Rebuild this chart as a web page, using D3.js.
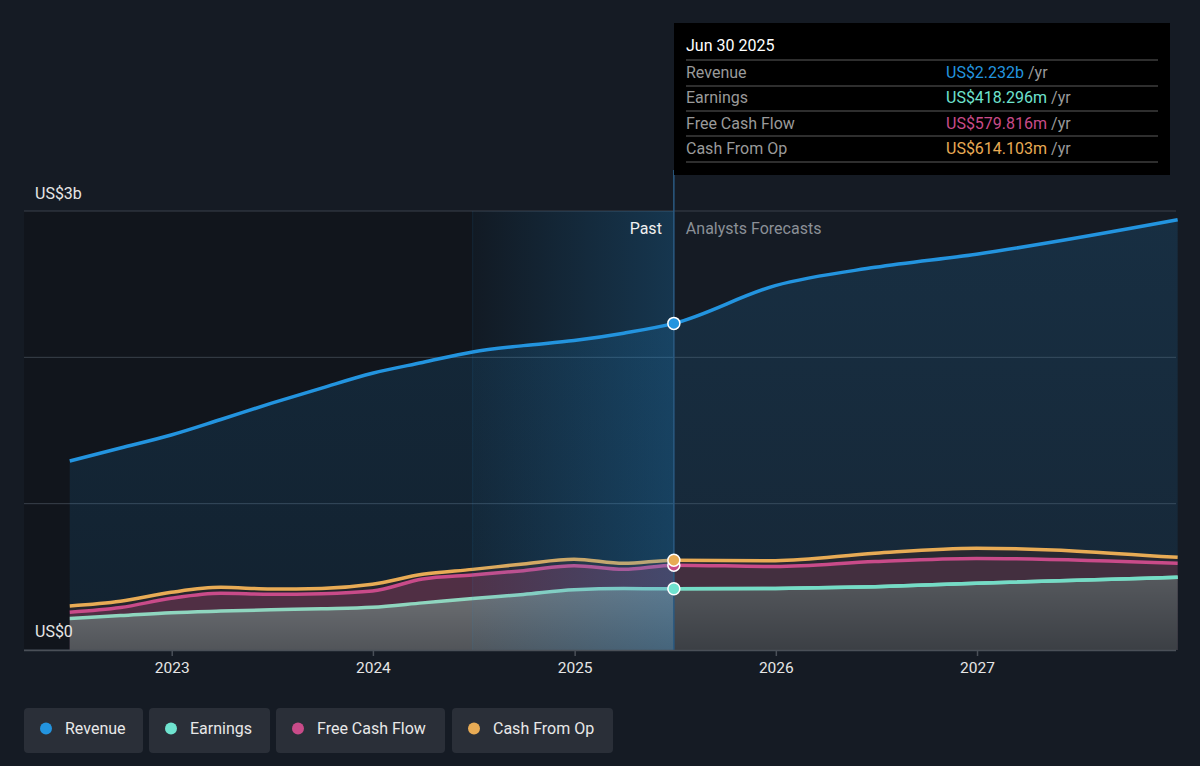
<!DOCTYPE html>
<html><head><meta charset="utf-8">
<script src="https://cdn.jsdelivr.net/npm/d3@7/dist/d3.min.js"></script>
<style>
html,body{margin:0;padding:0;background:#151b24;}
svg{display:block;font-family:Roboto,"Noto Sans",sans-serif;}
</style></head>
<body><svg id="c" width="1200" height="766"></svg>
<script>
// ---------- data (values in US$ billions) ----------
const pastDates = ["2022-06-30","2022-09-30","2022-12-31","2023-03-31","2023-06-30","2023-09-30","2023-12-31","2024-03-31","2024-06-30","2024-09-30","2024-12-31","2025-03-31","2025-06-30"];
const pastRevenue = [1.292,1.380,1.469,1.575,1.685,1.790,1.891,1.965,2.037,2.080,2.115,2.165,2.232];
const pastEarnings = [0.216,0.235,0.255,0.266,0.275,0.282,0.292,0.322,0.352,0.380,0.412,0.420,0.418];
const pastFCF = [0.258,0.290,0.353,0.387,0.381,0.385,0.403,0.485,0.513,0.542,0.576,0.551,0.580];
const pastCFO = [0.301,0.333,0.394,0.428,0.417,0.421,0.449,0.517,0.551,0.588,0.620,0.592,0.614];

const fcDates = ["2025-06-30","2025-12-31","2026-06-30","2026-12-31","2027-12-31"];
const fcRevenue = [2.232,2.490,2.615,2.705,2.940];
const fcEarnings = [0.418,0.421,0.433,0.456,0.497];
const fcFCF = [0.580,0.570,0.604,0.626,0.592];
const fcCFO = [0.614,0.610,0.661,0.695,0.633];

const yTicks = [0,1,2,3];
const yLabels = ["US$0","US$3b"];
const xTickYears = [2023,2024,2025,2026,2027];
const seriesNames = ["Revenue","Earnings","Free Cash Flow","Cash From Op"];
const seriesColors = ["#2394df","#6fe3cf","#c94b89","#e8ab55"];
const tipDate = "Jun 30 2025";
const tipValues = ["US$2.232b","US$418.296m","US$579.816m","US$614.103m"];

// ---------- setup ----------
const svg = d3.select("#c");
const W=1200,H=766;
const L=24,R=1176,T=211,B=650;
const FS=16;
const parse = d3.timeParse("%Y-%m-%d");
const x = d3.scaleTime().domain([parse("2022-04-08"),parse("2027-12-28")]).range([L,R]);
const y = d3.scaleLinear().domain([0,3]).range([B,T]);
const nowDate = parse("2025-06-30");
const xNow = x(nowDate);
const xBand = x(parse("2024-06-30"));

const mk = (dates,vals)=>dates.map((d,i)=>({d:parse(d),v:vals[i]}));
const allDates = pastDates.concat(fcDates.slice(1));
const series = [
  mk(allDates, pastRevenue.concat(fcRevenue.slice(1))),
  mk(allDates, pastEarnings.concat(fcEarnings.slice(1))),
  mk(allDates, pastFCF.concat(fcFCF.slice(1))),
  mk(allDates, pastCFO.concat(fcCFO.slice(1)))
];

const defs = svg.append("defs");
svg.append("rect").attr("width",W).attr("height",H).attr("fill","#151b24");

// past darker region
svg.append("rect").attr("x",L).attr("y",T).attr("width",xNow-L).attr("height",B-T).attr("fill","#0e1116").attr("opacity",0.55);

// clip paths
defs.append("clipPath").attr("id","cpPast").append("rect").attr("x",0).attr("y",0).attr("width",xNow).attr("height",H);
defs.append("clipPath").attr("id","cpFc").append("rect").attr("x",xNow).attr("y",0).attr("width",W-xNow).attr("height",H);

// gradients
function vgrad(id,stops){
  const g=defs.append("linearGradient").attr("id",id).attr("x1",0).attr("y1",0).attr("x2",0).attr("y2",1);
  stops.forEach(s=>g.append("stop").attr("offset",s[0]).attr("stop-color",s[1]).attr("stop-opacity",s[2]));
}
vgrad("gRev",[[0,"#2394df",0.16],[1,"#2394df",0.10]]);
vgrad("gEarnP",[[0,"#ffffff",0.36],[1,"#ffffff",0.20]]);
vgrad("gEarnF",[[0,"#ffffff",0.22],[1,"#ffffff",0.10]]);
const bg=defs.append("linearGradient").attr("id","gBand").attr("x1",0).attr("y1",0).attr("x2",1).attr("y2",0);
bg.append("stop").attr("offset",0).attr("stop-color","#2394df").attr("stop-opacity",0.04);
bg.append("stop").attr("offset",1).attr("stop-color","#2394df").attr("stop-opacity",0.26);

// gridlines
svg.append("g").selectAll("line").data(yTicks).join("line")
  .attr("x1",L).attr("x2",R).attr("y1",d=>y(d)).attr("y2",d=>y(d))
  .attr("stroke","#3a414b").attr("stroke-width",1);

const area = d3.area().x(d=>x(d.d)).y0(y(0)).y1(d=>y(d.v)).curve(d3.curveMonotoneX);
const line = d3.line().x(d=>x(d.d)).y(d=>y(d.v)).curve(d3.curveMonotoneX);

// areas
function drawAreas(clip, earnFill, pinkOp, orangeOp){
  const g = svg.append("g").attr("clip-path",`url(#${clip})`);
  g.append("path").datum(series[0]).attr("d",area).attr("fill","url(#gRev)");
  g.append("path").datum(series[3]).attr("d",area).attr("fill","#3a2a2a").attr("opacity",orangeOp);
  g.append("path").datum(series[2]).attr("d",area).attr("fill","#c94b89").attr("opacity",pinkOp);
  g.append("path").datum(series[1]).attr("d",area).attr("fill","#262a30");
  g.append("path").datum(series[1]).attr("d",area).attr("fill",`url(#${earnFill})`);
}
drawAreas("cpPast","gEarnP",0.26,0.5);
drawAreas("cpFc","gEarnF",0.17,0.5);

// lines
const lineOrder=[1,3,2,0];
svg.append("g").selectAll("path").data(lineOrder).join("path")
  .attr("d",i=>line(series[i])).attr("fill","none")
  .attr("stroke",i=>i===1?"#8fd6bf":seriesColors[i]).attr("stroke-width",3.5);
svg.append("path").datum(series[1]).attr("clip-path","url(#cpFc)").attr("d",line)
  .attr("fill","none").attr("stroke","#74dcc6").attr("stroke-width",3.5);

// band overlay
svg.append("rect").attr("x",xBand).attr("y",T).attr("width",xNow-xBand).attr("height",B-T).attr("fill","url(#gBand)");
svg.append("line").attr("x1",xBand).attr("x2",xBand).attr("y1",T).attr("y2",B).attr("stroke","#2394df").attr("stroke-opacity",0.12);
svg.append("line").attr("x1",xNow).attr("x2",xNow).attr("y1",170).attr("y2",B).attr("stroke","#2a5a82").attr("stroke-width",1.5);

// dots
const dotOrder=[2,3,1,0];
svg.append("g").selectAll("circle").data(dotOrder).join("circle")
  .attr("cx",xNow).attr("cy",i=>y(series[i][12].v)).attr("r",6)
  .attr("fill",i=>seriesColors[i]).attr("stroke","#fff").attr("stroke-width",1.5);

// x axis
const xa = svg.append("g").attr("transform",`translate(0,${B})`)
  .call(d3.axisBottom(x).tickValues(xTickYears.map(v=>new Date(v,0,1))).tickFormat(d3.timeFormat("%Y")).tickSize(6).tickPadding(6));
xa.select(".domain").attr("stroke","#4a5058").attr("stroke-width",1.5).attr("d",`M${L},0.5H${R}`);
xa.selectAll(".tick line").attr("stroke","#4a5058").attr("stroke-width",1.5);
xa.selectAll(".tick text").attr("fill","#e6e6e6").attr("font-size",15.5).attr("font-family","Roboto");

// y labels
svg.append("text").attr("x",35).attr("y",199).attr("fill","#e6e6e6").attr("font-size",FS).text(yLabels[1]);
svg.append("text").attr("x",35).attr("y",637).attr("fill","#e6e6e6").attr("font-size",FS).text(yLabels[0]);

// Past / forecasts
svg.append("text").attr("x",xNow-12).attr("y",234).attr("text-anchor","end").attr("fill","#f0f0f0").attr("font-size",FS).text("Past");
svg.append("text").attr("x",xNow+12).attr("y",234).attr("fill","#8b9097").attr("font-size",FS).text("Analysts Forecasts");

// tooltip
const tip = svg.append("g");
tip.append("rect").attr("x",674).attr("y",23).attr("width",496).attr("height",152).attr("fill","#000");
tip.append("text").attr("x",686).attr("y",51).attr("fill","#fff").attr("font-size",FS).text(tipDate);
const rowY=[72,97,123,148];
[60,86,111,136,162].forEach(v=>tip.append("line").attr("x1",686).attr("x2",1158).attr("y1",v).attr("y2",v).attr("stroke","#3e3e3e").attr("stroke-width",1.5));
seriesNames.forEach((n,i)=>{
  tip.append("text").attr("x",686).attr("y",rowY[i]+5.5).attr("fill","#9a9a9a").attr("font-size",FS).text(n);
  const t=tip.append("text").attr("x",946).attr("y",rowY[i]+5.5).attr("font-size",FS);
  t.append("tspan").attr("fill",seriesColors[i]).text(tipValues[i]);
  t.append("tspan").attr("fill","#9a9a9a").text(" /yr");
});

// legend
const legX=[24,149,276,452], legW=[119,121,169,161];
const leg=svg.append("g");
seriesNames.forEach((n,i)=>{
  const g=leg.append("g").attr("transform",`translate(${legX[i]},708)`);
  g.append("rect").attr("width",legW[i]).attr("height",45).attr("rx",4).attr("fill","#2a2f38");
  g.append("circle").attr("cx",22).attr("cy",20.5).attr("r",6).attr("fill",seriesColors[i]);
  g.append("text").attr("x",41).attr("y",26).attr("fill","#e8e8e8").attr("font-size",FS).text(n);
});
</script></body></html>
